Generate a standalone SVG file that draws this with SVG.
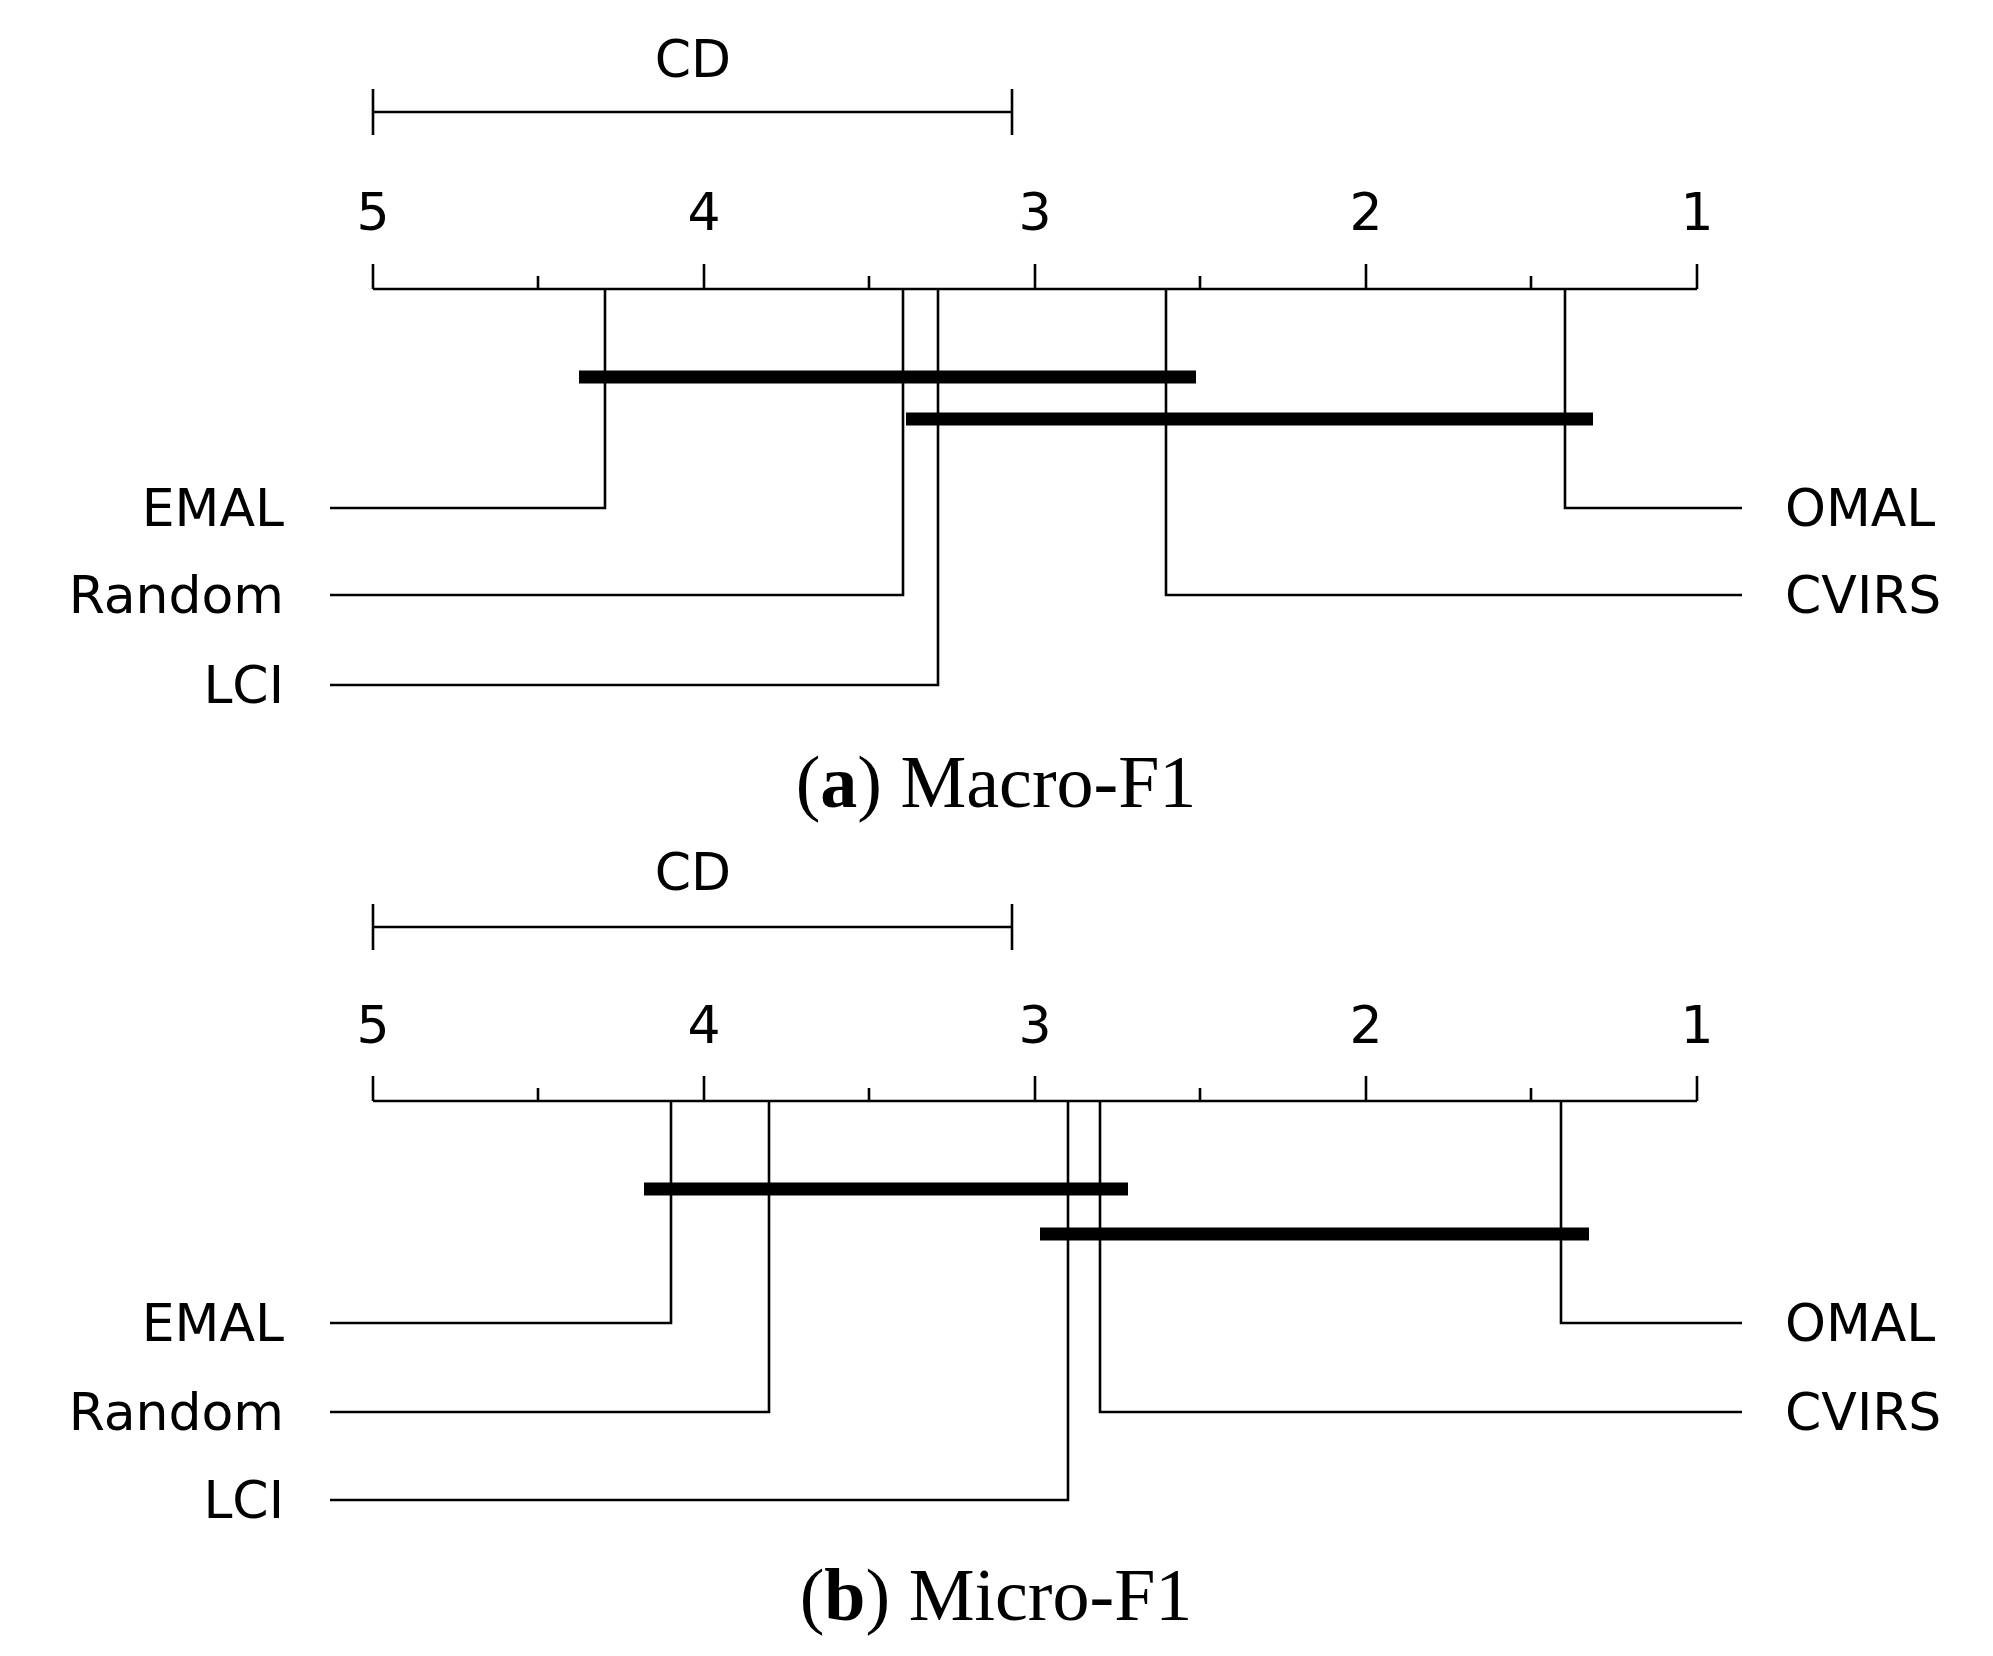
<svg xmlns="http://www.w3.org/2000/svg" width="1993" height="1656" viewBox="0 0 1993 1656">
<style>
.l{stroke:#000;stroke-width:2.6;fill:none}
.b{stroke:#000;stroke-width:13;fill:none}
.t{font-family:"DejaVu Sans",sans-serif;font-size:52px;fill:#000}
.c{font-family:"Liberation Serif",serif;font-size:74px;fill:#000}
</style>
<rect width="1993" height="1656" fill="#fff"/>
<g id="panelA">
<g id="cdA"><path class="l" d="M373 112H1012M373 89V135M1012 89V135"/><text class="t" x="693" y="77" text-anchor="middle">CD</text></g>
<g id="axisA"><path class="l" d="M373 289H1697M373 264V289M704 264V289M1035 264V289M1366 264V289M1697 264V289M538 276V289M869 276V289M1200 276V289M1531 276V289"/>
<g class="t" text-anchor="middle"><text x="373" y="230">5</text><text x="704" y="230">4</text><text x="1035" y="230">3</text><text x="1366" y="230">2</text><text x="1697" y="230">1</text></g></g>
<g id="connA"><path class="l" d="M605 289V508H330M903 289V595H330M938 289V685H330M1166 289V595H1742M1565 289V508H1742"/>
<path class="b" d="M579 377H1196M906 419H1593"/></g>
<g class="t"><text x="284" y="526" text-anchor="end">EMAL</text><text x="284" y="613" text-anchor="end">Random</text><text x="284" y="703" text-anchor="end">LCI</text><text x="1785" y="526">OMAL</text><text x="1785" y="613">CVIRS</text></g>
<text class="c" x="996" y="807" text-anchor="middle">(<tspan font-weight="bold">a</tspan>) Macro-F1</text>
</g>
<g id="panelB">
<g id="cdB"><path class="l" d="M373 927H1012M373 904V950M1012 904V950"/><text class="t" x="693" y="890" text-anchor="middle">CD</text></g>
<g id="axisB"><path class="l" d="M373 1101H1697M373 1076V1101M704 1076V1101M1035 1076V1101M1366 1076V1101M1697 1076V1101M538 1088V1101M869 1088V1101M1200 1088V1101M1531 1088V1101"/>
<g class="t" text-anchor="middle"><text x="373" y="1043">5</text><text x="704" y="1043">4</text><text x="1035" y="1043">3</text><text x="1366" y="1043">2</text><text x="1697" y="1043">1</text></g></g>
<g id="connB"><path class="l" d="M671 1101V1323H330M769 1101V1412H330M1068 1101V1500H330M1100 1101V1412H1742M1561 1101V1323H1742"/>
<path class="b" d="M644 1189H1128M1040 1234H1589"/></g>
<g class="t"><text x="284" y="1341" text-anchor="end">EMAL</text><text x="284" y="1430" text-anchor="end">Random</text><text x="284" y="1518" text-anchor="end">LCI</text><text x="1785" y="1341">OMAL</text><text x="1785" y="1430">CVIRS</text></g>
<text class="c" x="996" y="1620" text-anchor="middle">(<tspan font-weight="bold">b</tspan>) Micro-F1</text>
</g>
</svg>
